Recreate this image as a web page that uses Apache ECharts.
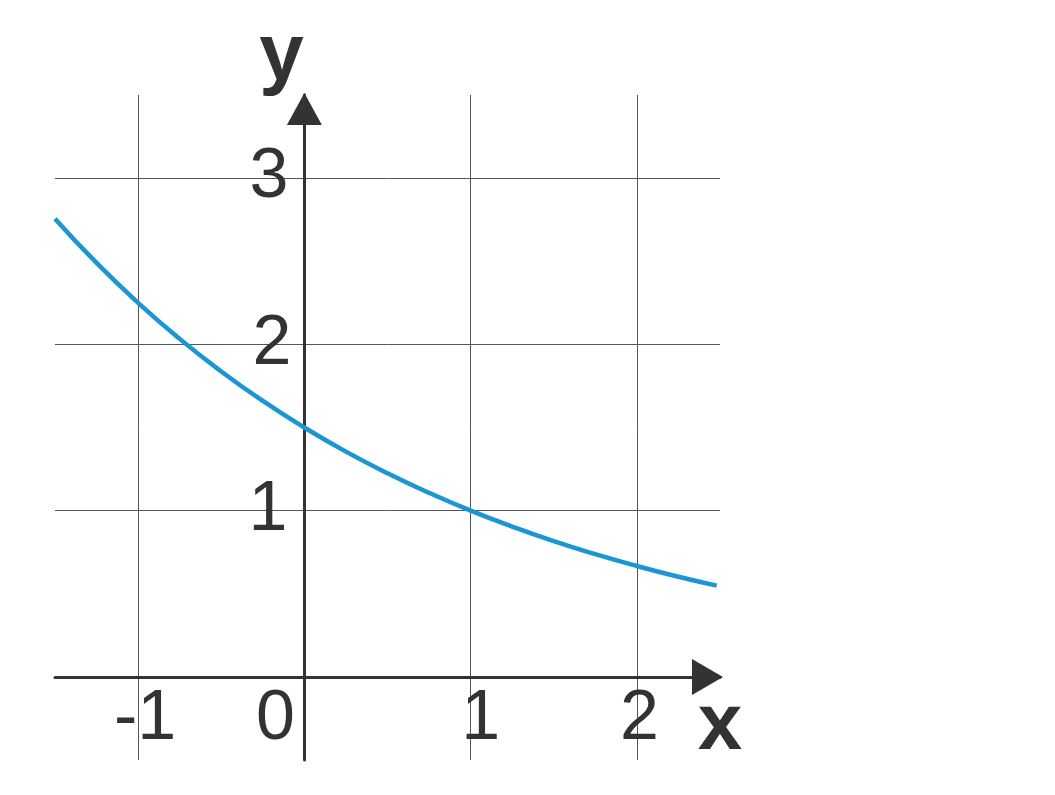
<!DOCTYPE html>
<html><head><meta charset="utf-8">
<script src="https://cdn.jsdelivr.net/npm/echarts@6/dist/echarts.min.js"></script>
<style>html,body{margin:0;padding:0;background:#fff}#c{width:1055px;height:795px}</style>
</head><body><div id="c"></div>
<script>
// curve points
const curveX = [-1.5, -1.25, -1, -0.75, -0.5, -0.25, 0, 0.25, 0.5, 0.75, 1, 1.25, 1.5, 1.75, 2, 2.25, 2.48];
const curveY = [2.756, 2.49, 2.25, 2.033, 1.837, 1.66, 1.5, 1.355, 1.225, 1.107, 1.0, 0.904, 0.816, 0.738, 0.667, 0.602, 0.549];
// ticks and labels
const xTicks = [-1, 0, 1, 2];
const xTickLabels = ['-1', '0', '1', '2'];
const yTicks = [1, 2, 3];
const yTickLabels = ['1', '2', '3'];
const xRange = [-1.5, 2.5];
const yRange = [-0.5, 3.5];

const W = 1055, H = 795;
const G = { left: 55, right: 335, top: 95, bottom: 35 };
const unitX = (W - G.left - G.right) / (xRange[1] - xRange[0]);
const unitY = (H - G.top - G.bottom) / (yRange[1] - yRange[0]);

const FONT = '"Liberation Sans", Arial, sans-serif';
const AXIS_COLOR = '#333333';
const GRID_COLOR = '#555555';

const xRich = {
  a0: { fontSize: 70, fontFamily: FONT, color: AXIS_COLOR, padding: [0, 0, 0, 14] },
  a1: { fontSize: 70, fontFamily: FONT, color: AXIS_COLOR, padding: [0, 58, 0, 0] },
  a2: { fontSize: 70, fontFamily: FONT, color: AXIS_COLOR, padding: [0, 0, 0, 20] },
  a3: { fontSize: 70, fontFamily: FONT, color: AXIS_COLOR, padding: [0, 0, 0, 5] }
};
const yRich = {
  b0: { fontSize: 70, fontFamily: FONT, color: AXIS_COLOR, padding: [0, 4, 0, 0] },
  b1: { fontSize: 70, fontFamily: FONT, color: AXIS_COLOR, padding: [0, 0, 0, 0] },
  b2: { fontSize: 70, fontFamily: FONT, color: AXIS_COLOR, padding: [0, 3, 0, 0] }
};

function hiddenAxis(type, idx, range) {
  return { type: 'value', gridIndex: idx, min: range[0], max: range[1], show: false,
    axisLine: { show: false }, axisLabel: { show: false }, axisTick: { show: false }, splitLine: { show: false } };
}

const chart = echarts.init(document.getElementById('c'), null, { renderer: 'canvas' });
chart.setOption({
  animation: false,
  backgroundColor: '#ffffff',
  grid: [
    // main plotting area
    { left: G.left, right: G.right, top: G.top, bottom: G.bottom, containLabel: false, outerBoundsMode: 'none' },
    // grid whose bottom edge is y = 0 (carries the x axis)
    { left: G.left, right: G.right, top: G.top, bottom: G.bottom + (0 - yRange[0]) * unitY, containLabel: false, outerBoundsMode: 'none' },
    // grid whose left edge is x = 0 (carries the y axis)
    { left: G.left + (0 - xRange[0]) * unitX, right: G.right, top: G.top, bottom: G.bottom, containLabel: false, outerBoundsMode: 'none' }
  ],
  xAxis: [
    { type: 'value', gridIndex: 0, min: xRange[0], max: xRange[1],
      axisLine: { show: false }, axisLabel: { show: false },
      axisTick: { show: false, customValues: xTicks },
      splitLine: { show: true, lineStyle: { color: GRID_COLOR, width: 1 } } },
    { type: 'value', gridIndex: 1, min: xRange[0], max: xRange[1], position: 'bottom',
      name: 'x', nameLocation: 'end', nameGap: 0,
      nameTextStyle: { fontSize: 80, fontWeight: 'bold', fontFamily: FONT, color: AXIS_COLOR,
        align: 'center', verticalAlign: 'top', padding: [10, 0, 0, 0] },
      axisLine: { show: true, onZero: false, lineStyle: { color: AXIS_COLOR, width: 3 },
        symbol: ['none', 'triangle'], symbolSize: [36, 31], symbolOffset: [0, -12.5] },
      axisTick: { show: false, customValues: xTicks },
      axisLabel: { show: true, customValues: xTicks, margin: 8, hideOverlap: false,
        formatter: function (v) { const i = xTicks.indexOf(v); return i < 0 ? '' : '{a' + i + '|' + xTickLabels[i] + '}'; },
        rich: xRich },
      splitLine: { show: false } },
    hiddenAxis('value', 2, xRange)
  ],
  yAxis: [
    { type: 'value', gridIndex: 0, min: yRange[0], max: yRange[1],
      axisLine: { show: false }, axisLabel: { show: false },
      axisTick: { show: false, customValues: yTicks },
      splitLine: { show: true, lineStyle: { color: GRID_COLOR, width: 1 } } },
    hiddenAxis('value', 1, [0, yRange[1]]),
    { type: 'value', gridIndex: 2, min: yRange[0], max: yRange[1], position: 'left',
      name: 'y', nameLocation: 'end', nameGap: -2,
      nameTextStyle: { fontSize: 80, fontWeight: 'bold', fontFamily: FONT, color: AXIS_COLOR,
        align: 'center', verticalAlign: 'bottom', padding: [0, 46, 0, 0] },
      axisLine: { show: true, onZero: false, lineStyle: { color: AXIS_COLOR, width: 3 },
        symbol: ['none', 'triangle'], symbolSize: [35, 32], symbolOffset: [0, -14] },
      axisTick: { show: false, customValues: yTicks },
      axisLabel: { show: true, customValues: yTicks, margin: 13, hideOverlap: false,
        formatter: function (v) { const i = yTicks.indexOf(v); return i < 0 ? '' : '{b' + i + '|' + yTickLabels[i] + '}'; },
        rich: yRich },
      splitLine: { show: false } }
  ],
  series: [{
    type: 'line', xAxisIndex: 0, yAxisIndex: 0, smooth: true, symbol: 'none', silent: true,
    lineStyle: { color: '#1a96d4', width: 4.5 },
    data: curveX.map(function (x, i) { return [x, curveY[i]]; })
  }]
});
</script></body></html>
